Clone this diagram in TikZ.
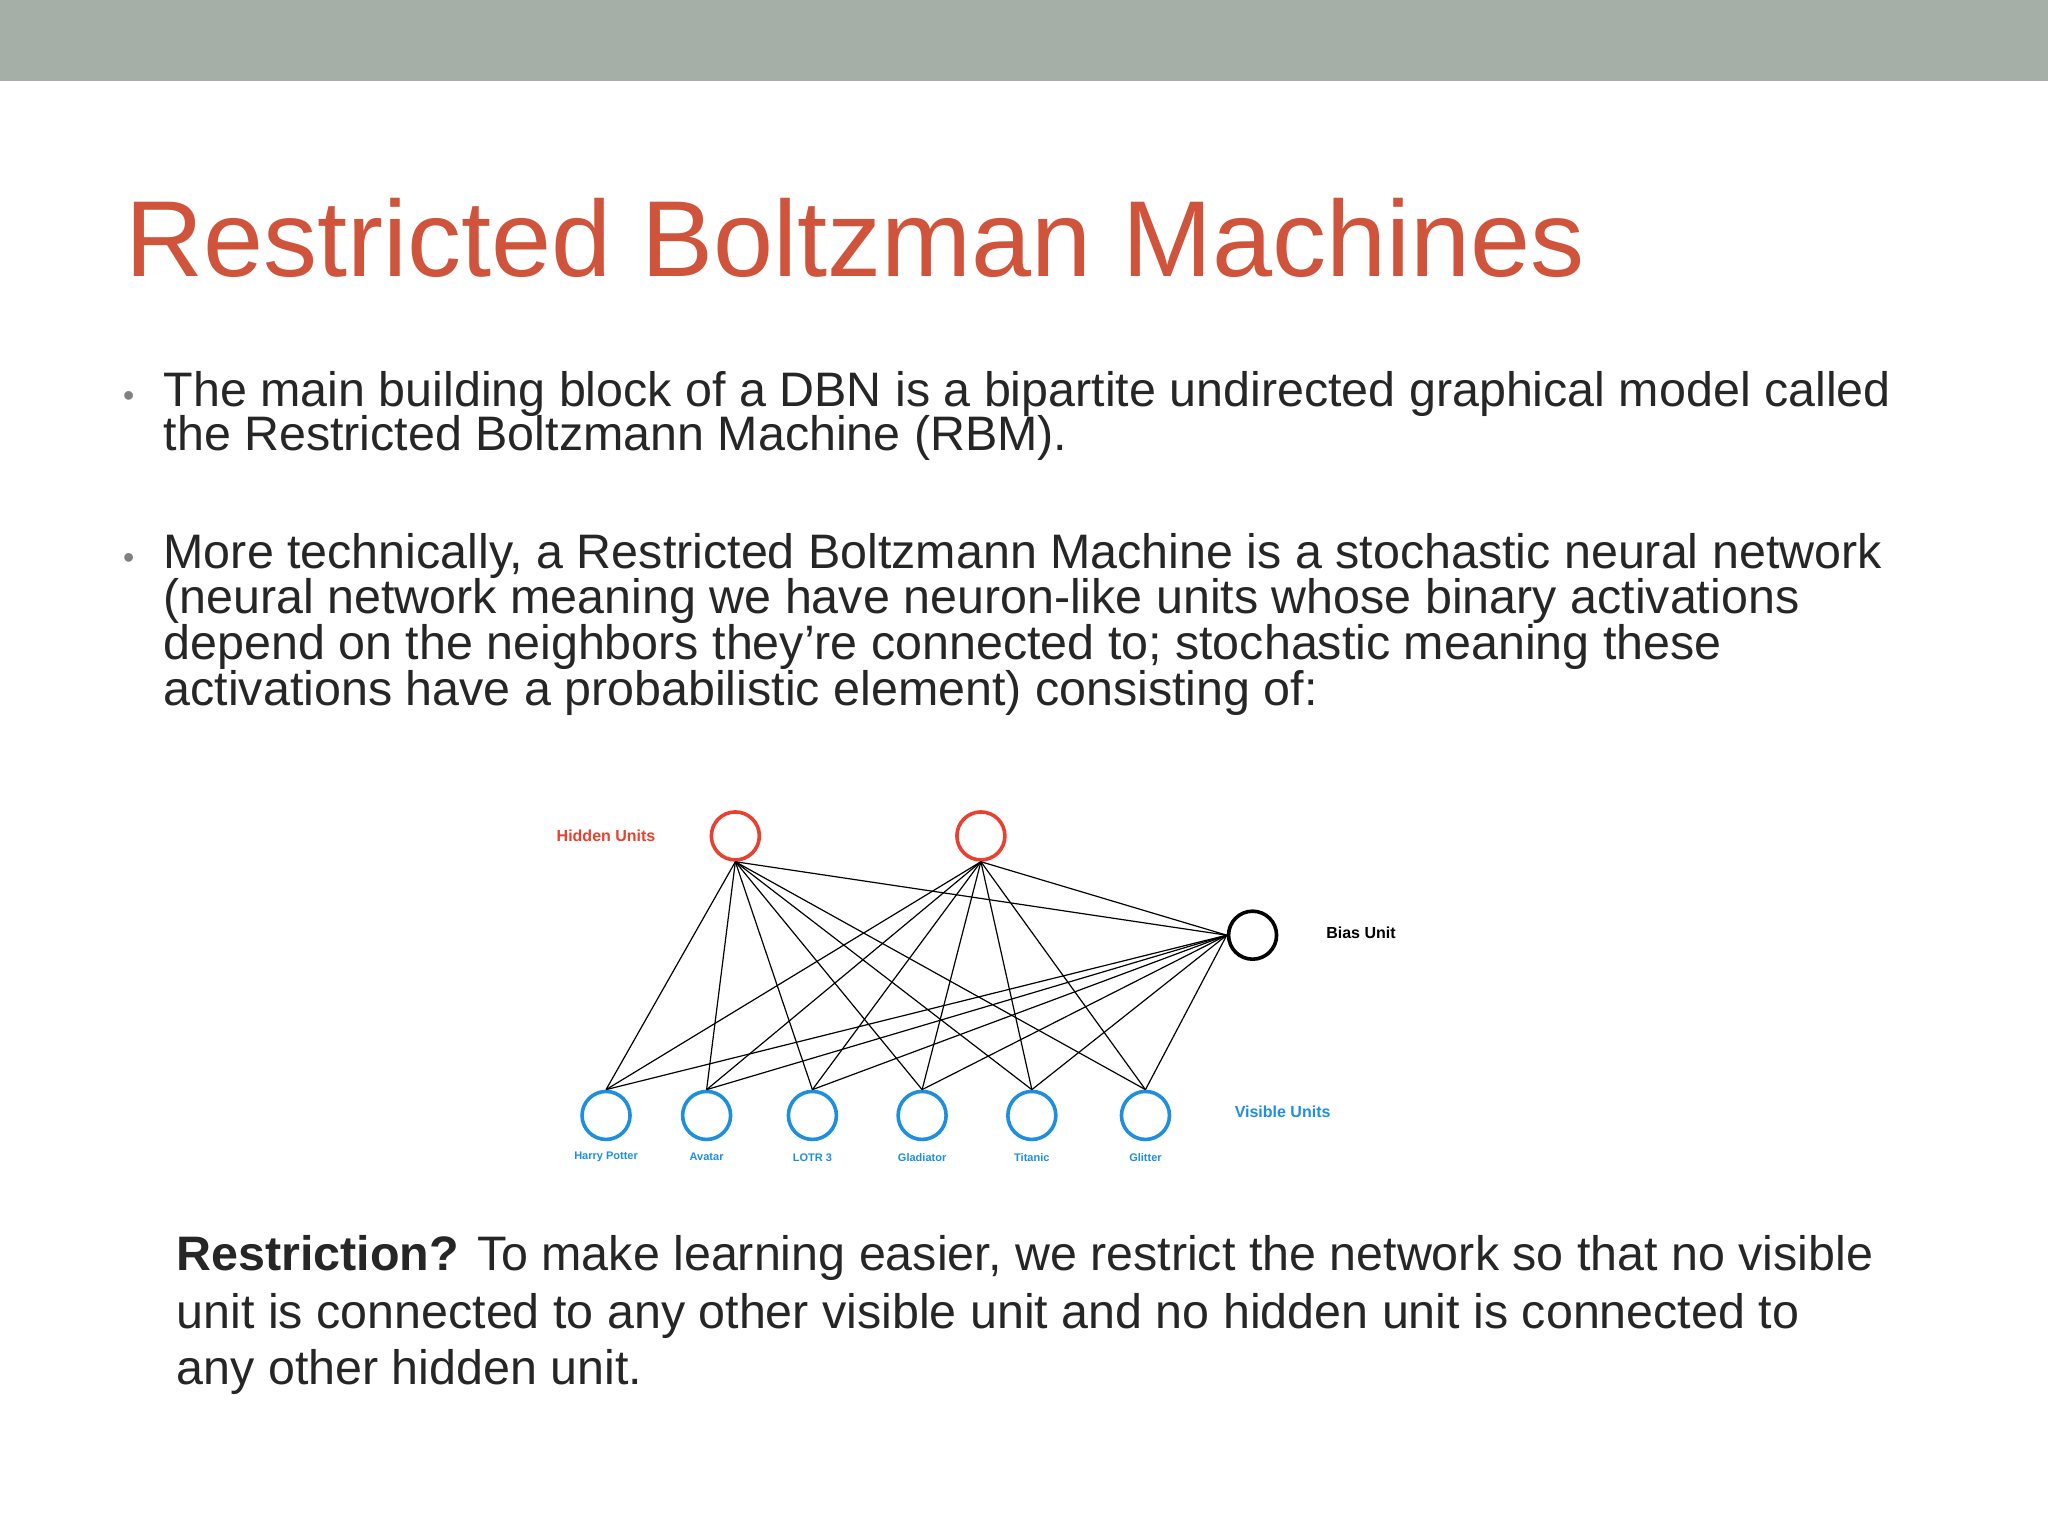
\documentclass[tikz,border=0pt]{standalone}
\usepackage{fontspec}
\setmainfont{Liberation Sans}
\definecolor{bar}{HTML}{A5AEA7}
\definecolor{ttl}{HTML}{CF543B}
\definecolor{hid}{HTML}{E8412F}
\definecolor{vis}{HTML}{1E8FE0}
\definecolor{txt}{HTML}{262626}
\begin{document}
\begin{tikzpicture}[x=0.653pt,y=-0.653pt,
  body/.style={anchor=base west,inner sep=0,font=\fontsize{24.2}{27}\selectfont,text=txt},
  unit/.style={circle,minimum size=24pt,inner sep=0,line width=1.8pt,draw},
  lab/.style={font=\fontsize{8}{9}\selectfont\bfseries},
  mov/.style={font=\fontsize{5.5}{6}\selectfont\bfseries,text=vis},
  edge/.style={line width=0.6pt}]
\useasboundingbox (0,0) rectangle (1568,1176);
\fill[white] (0,0) rectangle (1568,1176);
\fill[bar] (0,0) rectangle (1568,62);
\node[anchor=base west,inner sep=0,text=ttl,font=\fontsize{54}{56}\selectfont] (title) at (96,212) {Restricted Boltzman Machines};
\node[anchor=base west,inner sep=0,text=gray,font=\fontsize{16}{18}\selectfont] (b1) at (94,311) {•};
\node[body] (l1) at (125,311) {The main building block of a DBN is a bipartite undirected graphical model called};
\node[body] (l2) at (125,345) {the Restricted Boltzmann Machine (RBM).};
\node[anchor=base west,inner sep=0,text=gray,font=\fontsize{16}{18}\selectfont] (b2) at (94,435) {•};
\node[body] (l3) at (125,435) {More technically, a Restricted Boltzmann Machine is a stochastic neural network};
\node[body] (l4) at (125,470) {(neural network meaning we have neuron-like units whose binary activations};
\node[body] (l5) at (125,505) {depend on the neighbors they’re connected to; stochastic meaning these};
\node[body] (l6) at (125,540) {activations have a probabilistic element) consisting of:};
\node[body] (r1) at (135,973) {\textbf{Restriction?} To make learning easier, we restrict the network so that no visible};
\node[body] (r2) at (135,1017) {unit is connected to any other visible unit and no hidden unit is connected to};
\node[body] (r3) at (135,1060) {any other hidden unit.};
% diagram
\node[unit,draw=hid] (h1) at (563,640) {};
\node[unit,draw=hid] (h2) at (751,640) {};
\node[unit,draw=black] (b) at (959,716) {};
\foreach \x/\n/\t in {464/v1/Harry Potter,541/v2/Avatar,622/v3/LOTR 3,706/v4/Gladiator,790/v5/Titanic,877/v6/Glitter}{
  \node[unit,draw=vis] (\n) at (\x,854) {};
  \node[mov] (\n l) at (\x,886) {\t};
}
\foreach \v in {v1,v2,v3,v4,v5,v6}{
  \draw[edge] (h1.south) -- (\v.north);
  \draw[edge] (h2.south) -- (\v.north);
  \draw[edge] (b.west) -- (\v.north);
}
\draw[edge] (h1.south) -- (b.west);
\draw[edge] (h2.south) -- (b.west);
\node[lab,text=hid] (hl) at (464,640) {Hidden Units};
\node[lab,text=black] (bl) at (1042,714) {Bias Unit};
\node[lab,text=vis] (vl) at (982,851) {Visible Units};
\end{tikzpicture}
\end{document}
